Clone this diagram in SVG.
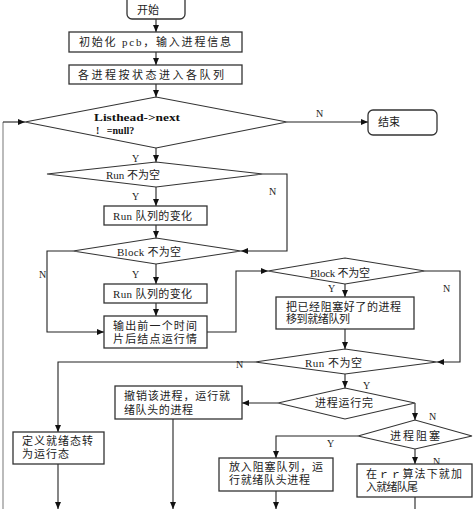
<svg xmlns="http://www.w3.org/2000/svg" width="474" height="509" viewBox="0 0 474 509">
<defs>
<marker id="ah" markerWidth="8" markerHeight="6" refX="7" refY="3" orient="auto" markerUnits="userSpaceOnUse">
<path d="M0,0 L7,3 L0,6 z" fill="#111"/>
</marker>
<style>
.box{fill:#fff;stroke:#333;stroke-width:1.3}
.dia{fill:#fff;stroke:#333;stroke-width:1.1}
.ln{fill:none;stroke:#222;stroke-width:1.1}
.arr{fill:none;stroke:#222;stroke-width:1.1;marker-end:url(#ah)}
.t{font-family:"Liberation Serif","Noto Sans CJK SC",serif;font-size:11px;fill:#222}
.b{font-family:"Liberation Serif",serif;font-size:10px;font-weight:bold;fill:#111}
.lb{font-family:"Liberation Serif",serif;font-size:10px;fill:#222}
</style>
</defs>
<rect width="474" height="509" fill="#fff"/>

<g id="connectors">
<line class="arr" x1="156" y1="19" x2="156" y2="32"/>
<line class="arr" x1="156" y1="52" x2="156" y2="65"/>
<line class="arr" x1="156" y1="84" x2="156" y2="97"/>
<line class="arr" x1="287" y1="122" x2="368" y2="122"/>
<polyline class="ln" points="3,509 3,122" style="stroke:#bbb;stroke-width:2"/>
<line class="arr" x1="3" y1="122" x2="25" y2="122"/>
<line class="arr" x1="156" y1="148" x2="156" y2="162"/>
<polyline class="arr" points="263,174 287,174 287,251 241,251"/>
<line class="arr" x1="156" y1="187" x2="156" y2="206"/>
<line class="arr" x1="156" y1="225" x2="156" y2="238"/>
<polyline class="arr" points="73,251 47,251 47,332 104,332"/>
<line class="arr" x1="156" y1="264" x2="156" y2="284"/>
<line class="arr" x1="156" y1="303" x2="156" y2="316"/>
<polyline class="arr" points="207,332 236,332 236,271 268,271"/>
<line class="arr" x1="345" y1="284" x2="345" y2="297"/>
<polyline class="arr" points="425,271 460,271 460,362 437,362"/>
<line class="arr" x1="345" y1="329" x2="345" y2="349"/>
<polyline class="arr" points="255,362 58,362 58,432"/>
<line class="arr" x1="345" y1="374" x2="345" y2="388"/>
<line class="arr" x1="278" y1="403" x2="242" y2="403"/>
<polyline class="arr" points="415,403 415,420"/>
<polyline class="arr" points="358,436 276,436 276,458"/>
<line class="arr" x1="415" y1="449" x2="415" y2="464"/>
<line class="arr" x1="58" y1="464" x2="58" y2="509"/>
<line class="arr" x1="173" y1="419" x2="173" y2="509"/>
<line class="arr" x1="276" y1="491" x2="276" y2="509"/>
<line class="ln" x1="415" y1="497" x2="415" y2="509"/>
<text class="lb" x="316" y="117">N</text>
<text class="lb" x="132" y="162">Y</text>
<text class="lb" x="269" y="195">N</text>
<text class="lb" x="132" y="200">Y</text>
<text class="lb" x="39" y="278">N</text>
<text class="lb" x="132" y="278">Y</text>
<text class="lb" x="328" y="292">Y</text>
<text class="lb" x="443" y="292">N</text>
<text class="lb" x="236" y="368">N</text>
<text class="lb" x="363" y="389">Y</text>
<text class="lb" x="429" y="420">N</text>
<text class="lb" x="327" y="447">Y</text>
<text class="lb" x="433" y="465">N</text>
</g>

<g id="start">
<rect class="box" x="127" y="-6" width="58" height="25" rx="5"/>
<text class="t" x="137" y="14">开始</text>
</g>
<g id="init">
<rect class="box" x="69" y="32" width="173" height="20"/>
<text class="t" x="79" y="46" textLength="152" lengthAdjust="spacing">初始化 pcb，输入进程信息</text>
</g>
<g id="enqueue">
<rect class="box" x="69" y="65" width="173" height="19"/>
<text class="t" x="78" y="79" textLength="146" lengthAdjust="spacing">各进程按状态进入各队列</text>
</g>
<g id="listhead">
<polygon class="dia" points="25,122 156,97 287,122 156,148"/>
<text class="b" x="94" y="121" textLength="86" lengthAdjust="spacingAndGlyphs">Listhead-&gt;next</text>
<text class="b" x="96" y="134" xml:space="preserve">!   =null?</text>
</g>
<g id="end">
<rect class="box" x="368" y="110" width="69" height="25" rx="5"/>
<text class="t" x="378" y="126">结束</text>
</g>
<g id="run1">
<polygon class="dia" points="47,174 156,162 263,174 156,187"/>
<text class="t" x="106" y="179" font-size="10">Run 不为空</text>
</g>
<g id="runchange1">
<rect class="box" x="104" y="206" width="103" height="19"/>
<text class="t" x="113" y="220" font-size="10.5" textLength="79" lengthAdjust="spacing">Run 队列的变化</text>
</g>
<g id="block1">
<polygon class="dia" points="73,251 156,238 241,251 156,264"/>
<text class="t" x="117" y="256" font-size="10" textLength="64" lengthAdjust="spacing">Block 不为空</text>
</g>
<g id="runchange2">
<rect class="box" x="104" y="284" width="103" height="19"/>
<text class="t" x="113" y="298" font-size="10.5" textLength="79" lengthAdjust="spacing">Run 队列的变化</text>
</g>
<g id="output">
<rect class="box" x="104" y="316" width="103" height="32"/>
<text class="t" x="113" y="330" textLength="84" lengthAdjust="spacing">输出前一个时间</text>
<text class="t" x="113" y="343" textLength="84" lengthAdjust="spacing">片后结点运行情</text>
</g>
<g id="block2">
<polygon class="dia" points="268,271 345,258 425,271 345,284"/>
<text class="t" x="310" y="277" font-size="10" textLength="60" lengthAdjust="spacing">Block 不为空</text>
</g>
<g id="moveready">
<rect class="box" x="276" y="297" width="138" height="32"/>
<text class="t" x="286" y="311" textLength="115" lengthAdjust="spacing">把已经阻塞好了的进程</text>
<text class="t" x="286" y="323" textLength="64" lengthAdjust="spacing">移到就绪队列</text>
</g>
<g id="run2">
<polygon class="dia" points="255,362 345,349 437,362 345,374"/>
<text class="t" x="305" y="367" font-size="10" textLength="57" lengthAdjust="spacing">Run 不为空</text>
</g>
<g id="done">
<polygon class="dia" points="278,403 345,388 415,403 345,419"/>
<text class="t" x="315" y="407" textLength="58" lengthAdjust="spacing">进程运行完</text>
</g>
<g id="cancel">
<rect class="box" x="115" y="386" width="127" height="33"/>
<text class="t" x="124" y="400" textLength="106" lengthAdjust="spacing">撤销该进程，运行就</text>
<text class="t" x="124" y="414" textLength="69" lengthAdjust="spacing">绪队头的进程</text>
</g>
<g id="blocked">
<polygon class="dia" points="358,436 415,420 472,436 415,449"/>
<text class="t" x="390" y="440" textLength="50" lengthAdjust="spacing">进程阻塞</text>
</g>
<g id="toblock">
<rect class="box" x="219" y="458" width="114" height="33"/>
<text class="t" x="229" y="471" textLength="94" lengthAdjust="spacing">放入阻塞队列，运</text>
<text class="t" x="229" y="484" textLength="81" lengthAdjust="spacing">行就绪队头进程</text>
</g>
<g id="rr">
<rect class="box" x="357" y="464" width="115" height="33"/>
<text class="t" x="366" y="478" textLength="96" lengthAdjust="spacing">在ｒｒ算法下就加</text>
<text class="t" x="366" y="491" textLength="52" lengthAdjust="spacing">入就绪队尾</text>
</g>
<g id="torun">
<rect class="box" x="13" y="432" width="91" height="32"/>
<text class="t" x="22" y="445" textLength="71" lengthAdjust="spacing">定义就绪态转</text>
<text class="t" x="22" y="458" textLength="47" lengthAdjust="spacing">为运行态</text>
</g>
</svg>
